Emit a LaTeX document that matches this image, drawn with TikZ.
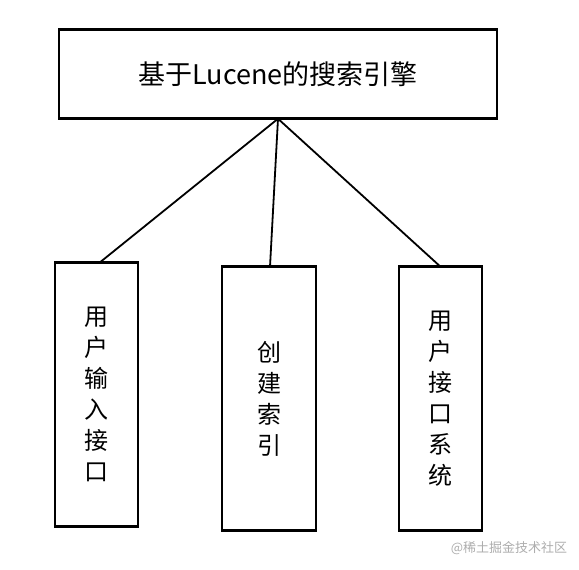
\documentclass[tikz,border=0pt]{standalone}
\usepackage{fontspec}
\setmainfont{Noto Sans CJK SC}
\begin{document}
\begin{tikzpicture}[x=1pt,y=-1pt,
  box/.style={draw=black,line width=2.6pt,inner sep=0pt,outer sep=0pt},
  vtext/.style={box,align=center,font=\fontsize{24}{31}\selectfont},
  link/.style={draw=black,line width=1.8pt}]
\useasboundingbox (0,0) rectangle (579,570);
\node[box,minimum width=438,minimum height=89.5,font=\fontsize{27}{30}\selectfont] (top) at (278,74) {基于Lucene的搜索引擎};
\node[vtext,minimum width=83,minimum height=264] (ui) at (96.5,394.7) {用\\户\\输\\入\\接\\口};
\node[vtext,minimum width=94,minimum height=264] (idx) at (269,398.7) {创\\建\\索\\引};
\node[vtext,minimum width=83,minimum height=264] (sys) at (440.5,398.7) {用\\户\\接\\口\\系\\统};
\draw[link] (top.south) -- ([xshift=3pt]ui.north);
\draw[link] (top.south) -- ([xshift=1pt]idx.north);
\draw[link] (top.south) -- (sys.north);
\node[text=black!32,font=\fontsize{13}{15}\selectfont,inner sep=0pt] (wm) at (509,548) {@稀土掘金技术社区};
\end{tikzpicture}
\end{document}
